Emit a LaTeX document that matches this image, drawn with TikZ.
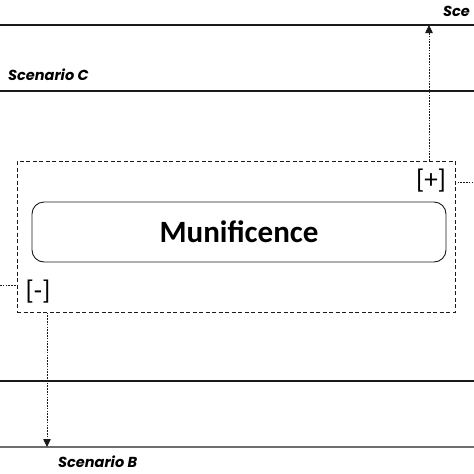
\documentclass[tikz,border=0pt]{standalone}
\usepackage{fontspec}
\setmainfont{Carlito}
\newfontfamily\scenfont{Poppins}
\usetikzlibrary{arrows.meta, positioning, calc}
\definecolor{inkline}{HTML}{1A1A1A}
\definecolor{inkbase}{HTML}{6E6E6E}

\begin{document}
\begin{tikzpicture}[x=1pt, y=-1pt,
    frame/.style={draw=inkline, line width=1pt, dash pattern=on 4pt off 2.5pt,
      minimum width=438pt, minimum height=151pt, inner sep=0pt},
    factor/.style={draw=inkline, line width=0.9pt, rounded corners=12pt,
      minimum width=414pt, minimum height=60pt, inner sep=0pt,
      font=\fontsize{31}{31}\selectfont\bfseries},
    sign/.style={inner sep=0pt, font=\fontsize{27}{27}\selectfont},
    scen/.style={anchor=west, inner sep=0pt,
      font=\scenfont\fontsize{14.5}{14.5}\selectfont\bfseries\itshape},
    link/.style={draw=inkline, line width=0.8pt, dash pattern=on 1.6pt off 1.2pt},
    movearrow/.style={link, -{Triangle[length=8pt, width=7.5pt]}}]
    \useasboundingbox (0,0) rectangle (474,474);
    \foreach \y in {25,91,381}{%
      \draw[inkline, line width=1.1pt] (0,\y) -- (474,\y);}
    \draw[inkbase, line width=1.4pt] (0,447) -- (474,447);
    \node[scen] (scenA) at (443,11) {Sce};
    \node[scen] (scenC) at (8,75) {Scenario C};
    \node[scen] (scenB) at (58,462) {Scenario B};
    \node[frame] (range) at (236,236.5) {};
    \node[factor] (muni) at (239,232) {Munificence};
    \node[sign] (plus) at (431,181) {[+]};
    \node[sign] (minus) at (38,292) {[-]};
    \coordinate (upA) at (429,25);
    \coordinate (downB) at (47,447);
    \coordinate (rightEnd) at (474,182);
    \coordinate (leftEnd) at (0,285);
    \draw[movearrow] (upA |- range.north) -- (upA);
    \draw[movearrow] (downB |- range.south) -- (downB);
    \draw[link] ($(range.east |- rightEnd)+(2,0)$) -- (rightEnd);
    \draw[link] (leftEnd) -- (range.west |- leftEnd);
  \end{tikzpicture}
\end{document}
